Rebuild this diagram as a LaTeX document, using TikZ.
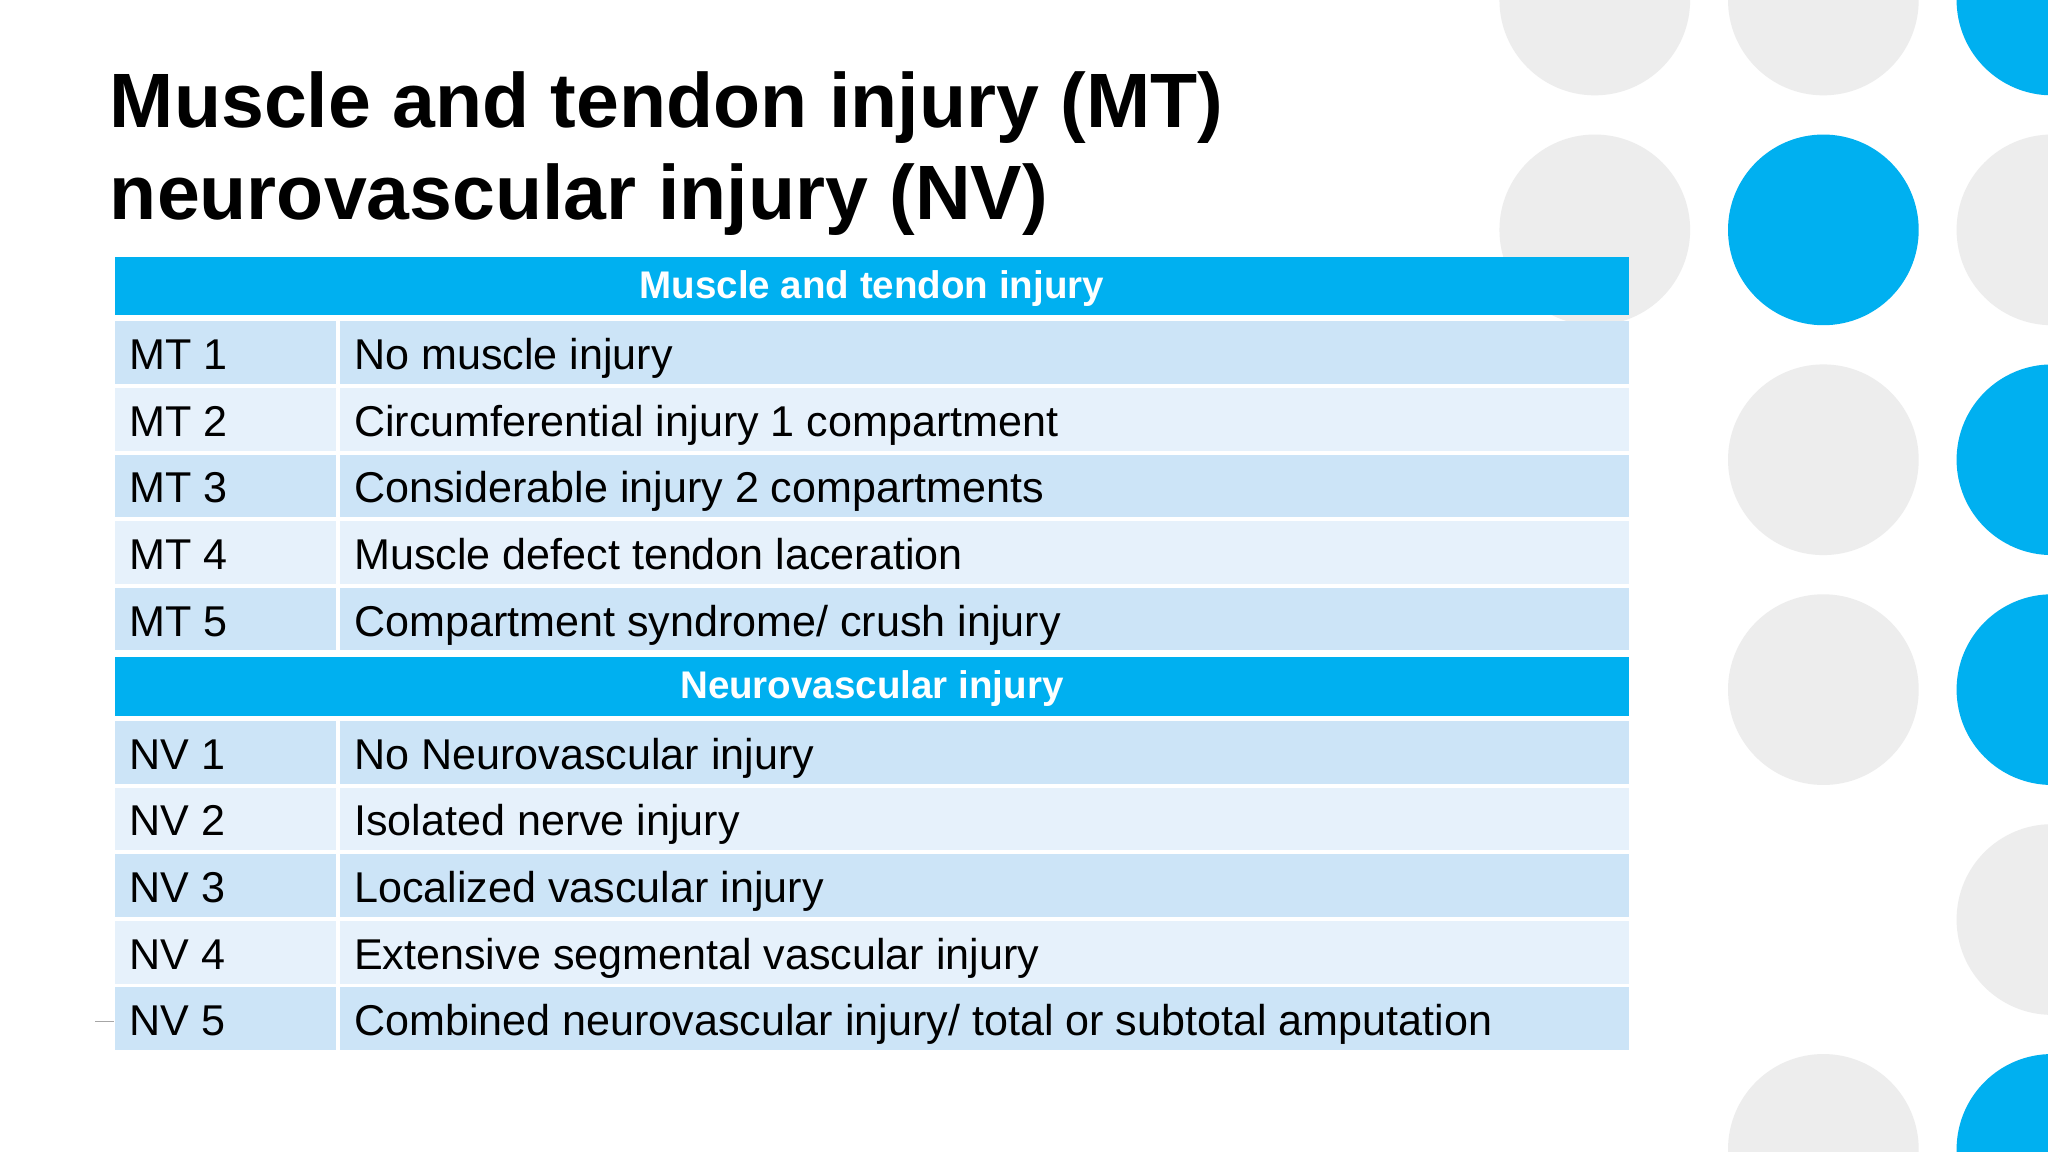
\documentclass[tikz,border=0pt]{standalone}
\usepackage{fontspec}
\setmainfont{Liberation Sans}
\definecolor{hdr}{HTML}{00B0F0}
\definecolor{rowA}{HTML}{CCE4F7}
\definecolor{rowB}{HTML}{E6F1FB}
\definecolor{circG}{HTML}{EDEDED}
\begin{document}
\begin{tikzpicture}[x=1pt,y=-1pt,
  gc/.style={fill=circG},bc/.style={fill=hdr},
  cell/.style={anchor=base west,inner sep=0,font=\fontsize{33}{40}\selectfont},
  htext/.style={text=white,font=\bfseries\fontsize{29.5}{35}\selectfont}]
\useasboundingbox[fill=white] (0,0) rectangle (1568,882);
\clip (0,0) rectangle (1568,882);
% circles
\foreach \x/\y/\s in {1221/0/gc,1221/176/gc,1396/0/gc,1396/176/bc,1396/352/gc,1396/528/gc,1396/880/gc,
  1571/0/bc,1571/176/gc,1571/352/bc,1571/528/bc,1571/704/gc,1571/880/bc}
  \fill[\s] (\x,\y) circle (73);
% title
\node[anchor=base west,font=\bfseries\fontsize{59}{70}\selectfont,inner sep=0] (t1) at (84,98) {Muscle and tendon injury (MT)};
\node[anchor=base west,font=\bfseries\fontsize{59}{70}\selectfont,inner sep=0] (t2) at (84,168) {neurovascular injury (NV)};
% headers
\fill[hdr] (88,197) rectangle (1247,241);
\node[htext] (h1) at (667.5,221) {Muscle and tendon injury};
\fill[hdr] (88,503) rectangle (1247,548);
\node[htext] (h2) at (667.5,527) {Neurovascular injury};
% rows
\foreach \y/\c/\a/\b [count=\i] in {
 246/rowA/MT 1/{No muscle injury},
 297/rowB/MT 2/{Circumferential injury 1 compartment},
 348/rowA/MT 3/{Considerable injury 2 compartments},
 399/rowB/MT 4/{Muscle defect tendon laceration},
 450/rowA/MT 5/{Compartment syndrome/ crush injury},
 552/rowA/NV 1/{No Neurovascular injury},
 603/rowB/NV 2/{Isolated nerve injury},
 654/rowA/NV 3/{Localized vascular injury},
 705/rowB/NV 4/{Extensive segmental vascular injury},
 756/rowA/NV 5/{Combined neurovascular injury/ total or subtotal amputation}}{
  \fill[\c] (88,\y) rectangle (257,\y+48);
  \fill[\c] (260,\y) rectangle (1247,\y+48);
  \node[cell] (k\i) at (99,\y+37) {\a};
  \node[cell] (v\i) at (271,\y+37) {\b};
}
\draw[gray!70,line width=0.8] (73,782) -- (87,782);
\end{tikzpicture}
\end{document}
